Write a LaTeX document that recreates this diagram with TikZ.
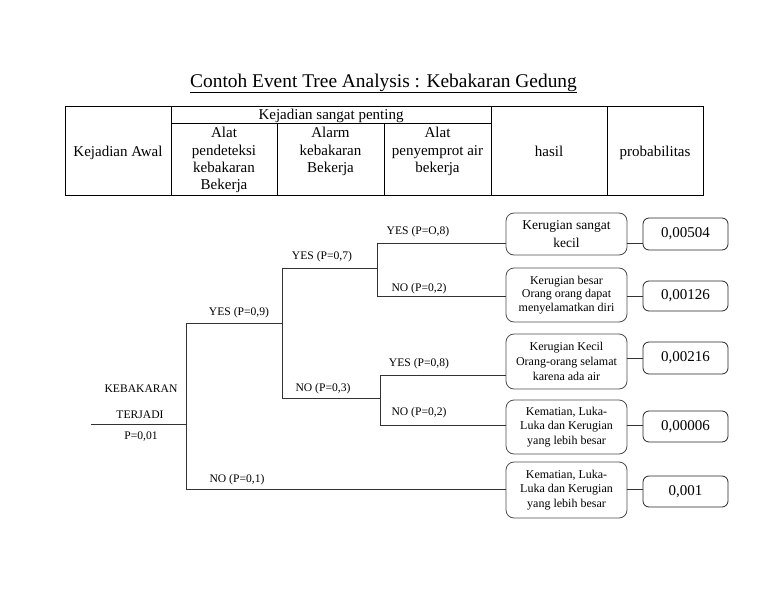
\documentclass[tikz,border=0pt]{standalone}
\usepackage{fontspec}
\setmainfont{Liberation Serif}
\newcommand{\fsz}[2]{\fontsize{#1}{#2}\selectfont}

\begin{document}
\begin{tikzpicture}[x=1pt,y=-1pt,
    branch/.style={draw=black!80, line width=0.9pt},
    lbl/.style={font=\fsz{11.6}{14}, inner sep=0pt},
    cell/.style={font=\fsz{15}{17.4}, align=center, inner sep=0pt},
    hasilbox/.style={draw=black!70, line width=0.8pt, rounded corners=8pt,
        minimum width=121pt, align=center, inner sep=0pt},
    probbox/.style={draw=black!85, line width=0.8pt, rounded corners=6pt,
        minimum width=85pt, inner sep=0pt, font=\fsz{15}{18}}]

    \useasboundingbox (0,0) rectangle (768,594);

    % --- Title ---
    \node[anchor=base, font=\fsz{19.4}{23}] (title) at (383.5,87)
        {\underline{Contoh Event Tree Analysis : Kebakaran Gedung}};

    % --- Table ---
    \draw[line width=0.8pt] (65,106) rectangle (703,195);
    \foreach \x in {171,491,607}
        \draw[line width=0.8pt] (\x,106) -- (\x,195);
    \foreach \x in {277,384}
        \draw[line width=0.8pt] (\x,123) -- (\x,195);
    \draw[line width=0.8pt] (171,123) -- (491,123);

    % Table headings
    \node[cell, anchor=base] (awal) at (118,156) {Kejadian Awal};
    \node[cell, anchor=base] (penting) at (331,119.5) {Kejadian sangat penting};
    \node[cell, anchor=north] (detektor) at (224,127) {Alat\\pendeteksi\\kebakaran\\Bekerja};
    \node[cell, anchor=north] (alarm) at (330.5,127) {Alarm\\kebakaran\\Bekerja};
    \node[cell, anchor=north] (sprinkler) at (437.5,127) {Alat\\penyemprot air\\bekerja};
    \node[cell, anchor=base] (hasil) at (549,156) {hasil};
    \node[cell, anchor=base] (prob) at (655,156) {probabilitas};

    % --- Outcome boxes ---
    \node[hasilbox, minimum height=42pt, font=\fsz{13.5}{18}] (H1) at (566.5,234)
        {Kerugian sangat\\kecil};
    \node[hasilbox, minimum height=54pt, font=\fsz{12}{13.5}] (H2) at (566.5,295)
        {Kerugian besar\\Orang orang dapat\\menyelamatkan diri};
    \node[hasilbox, minimum height=55pt, font=\fsz{12}{15.3}] (H3) at (566.5,361.5)
        {Kerugian Kecil\\Orang-orang selamat\\karena ada air};
    \node[hasilbox, minimum height=54pt, font=\fsz{12}{14.5}] (H4) at (566.5,427)
        {Kematian, Luka-\\Luka dan Kerugian\\yang lebih besar};
    \node[hasilbox, minimum height=56pt, font=\fsz{12}{14.2}] (H5) at (566.5,490)
        {Kematian, Luka-\\Luka dan Kerugian\\yang lebih besar};

    % --- Probability boxes ---
    \node[probbox, minimum height=32pt] (P1) at (685.5,234) {0,00504};
    \node[probbox, minimum height=30pt] (P2) at (685.5,296) {0,00126};
    \node[probbox, minimum height=32pt] (P3) at (685.5,358) {0,00216};
    \node[probbox, minimum height=31pt] (P4) at (685.5,426.5) {0,00006};
    \node[probbox, minimum height=31pt] (P5) at (685.5,491.5) {0,001};

    % --- Tree coordinates ---
    \coordinate (S) at (91,424);     % initiating event
    \coordinate (J1) at (186,424);   % first split
    \coordinate (A1) at (186,323);   % detector YES
    \coordinate (A2) at (186,489);   % detector NO
    \coordinate (J2) at (282,323);   % second split
    \coordinate (B1) at (282,268);   % alarm YES
    \coordinate (B2) at (282,398);   % alarm NO
    \coordinate (J3) at (377,268);
    \coordinate (C1) at (377,243);   % sprinkler YES
    \coordinate (C2) at (377,296);   % sprinkler NO
    \coordinate (J4) at (380,398);
    \coordinate (D1) at (380,375);   % sprinkler YES
    \coordinate (D2) at (380,425);   % sprinkler NO

    % --- Branches ---
    \draw[branch] (S) -- (J1);
    \draw[branch] (A1) -- (A2);
    \draw[branch] (A1) -- (J2);
    \draw[branch] (B1) -- (B2);
    \draw[branch] (B1) -- (J3);
    \draw[branch] (C1) -- (C2);
    \draw[branch] (B2) -- (J4);
    \draw[branch] (D1) -- (D2);

    % Branches into the outcome boxes
    \draw[branch] (C1) -- (C1 -| H1.west);
    \draw[branch] (C2) -- (C2 -| H2.west);
    \draw[branch] (D1) -- (D1 -| H3.west);
    \draw[branch] (D2) -- (D2 -| H4.west);
    \draw[branch] (A2) -- (A2 -| H5.west);

    % Outcome to probability
    \draw[branch] (C1 -| H1.east) -- (C1 -| P1.west);
    \draw[branch] (C2 -| H2.east) -- (C2 -| P2.west);
    \draw[branch] (H3.east |- P3.west) -- (P3.west);
    \draw[branch] (D2 -| H4.east) -- (D2 -| P4.west);
    \draw[branch] (A2 -| H5.east) -- (A2 -| P5.west);

    % --- Labels ---
    \node[lbl] (kebakaran) at (141,389) {KEBAKARAN};
    \node[lbl] (terjadi) at (140,415) {TERJADI};
    \node[lbl] (p001) at (141,437) {P=0,01};
    \node[lbl] (yes09) at (239,313) {YES (P=0,9)};
    \node[lbl] (no01) at (237,480) {NO (P=0,1)};
    \node[lbl] (yes07) at (322,257) {YES (P=0,7)};
    \node[lbl] (no03) at (323,389) {NO (P=0,3)};
    \node[lbl] (yes08a) at (418,232) {YES (P=O,8)};
    \node[lbl] (no02a) at (419,289) {NO (P=0,2)};
    \node[lbl] (yes08b) at (419,364) {YES (P=0,8)};
    \node[lbl] (no02b) at (419,413) {NO (P=0,2)};

\end{tikzpicture}
\end{document}
